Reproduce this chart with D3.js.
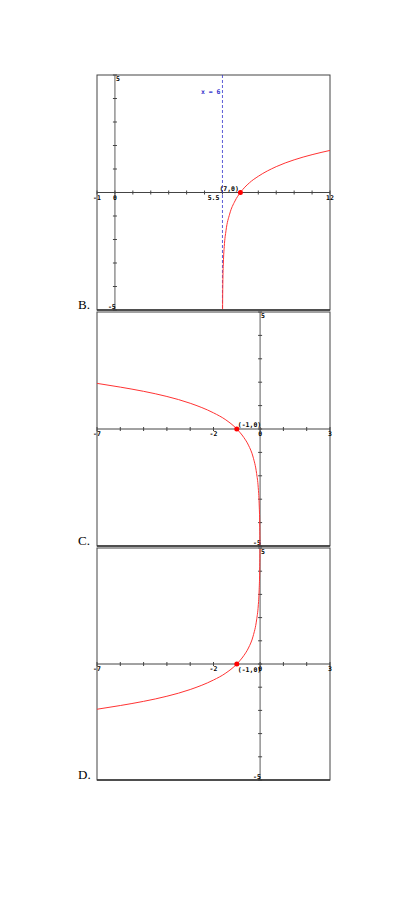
<!DOCTYPE html><html><head><meta charset="utf-8"><script src="https://cdn.jsdelivr.net/npm/d3@7"></script>
<style>body{margin:0;background:#fff}</style></head><body><svg id="c" width="400" height="898"></svg>
<script>
// Data
const panelLetters = ["B.", "C.", "D."];
const bX = [6.007,6.01,6.02,6.05,6.1,6.2,6.4,6.7,7,7.5,8,9,10,11,12];
const bY = [-4.96,-4.6,-3.9,-3.0,-2.3,-1.61,-0.92,-0.36,0,0.41,0.69,1.10,1.39,1.61,1.79];
const cX = [-7,-6,-5,-4,-3,-2,-1.5,-1,-0.7,-0.5,-0.3,-0.15,-0.08,-0.04,-0.015,-0.007];
const cY = [1.95,1.79,1.61,1.39,1.10,0.69,0.41,0,-0.36,-0.69,-1.2,-1.9,-2.5,-3.2,-4.2,-4.96];
const dY = cY.map(v => -v);

const svg = d3.select("#c");
const mono = "DejaVu Sans Mono";
function panel(top, bottom, xd, pts, point, ptLabel, ptLabelPos, xLabels, letter, asym){
  const x = d3.scaleLinear().domain(xd).range([97,330]);
  const y = d3.scaleLinear().domain([-5,5]).range([bottom, top]);
  const g = svg.append("g");
  g.append("rect").attr("x",97).attr("y",top).attr("width",233).attr("height",bottom-top).attr("fill","#fff").attr("stroke","#444").attr("stroke-width",1);
  g.append("line").attr("x1",97).attr("x2",330).attr("y1",y(0)).attr("y2",y(0)).attr("stroke","#444");
  g.append("line").attr("x1",x(0)).attr("x2",x(0)).attr("y1",top).attr("y2",bottom).attr("stroke","#777").attr("stroke-width",1.2);
  d3.range(Math.ceil(xd[0]),xd[1]+1).forEach(v=>{ g.append("line").attr("x1",x(v)).attr("x2",x(v)).attr("y1",y(0)-2).attr("y2",y(0)+2).attr("stroke","#444");});
  d3.range(-5,6).forEach(v=>{ g.append("line").attr("x1",x(0)-2).attr("x2",x(0)+2).attr("y1",y(v)).attr("y2",y(v)).attr("stroke","#444");});
  xLabels.forEach(([v,t])=>g.append("text").attr("x",x(v)).attr("y",y(0)+7).attr("text-anchor","middle").attr("font-family",mono).attr("font-size",6.5).attr("font-weight","bold").text(t));
  g.append("text").attr("x",x(0)+1).attr("y",top+6).attr("font-family",mono).attr("font-size",6.5).attr("font-weight","bold").text("5");
  g.append("text").attr("x",x(0)-7).attr("y",bottom-1).attr("font-family",mono).attr("font-size",6.5).attr("font-weight","bold").text("-5");
  if(asym){
    g.append("line").attr("x1",x(asym)).attr("x2",x(asym)).attr("y1",top).attr("y2",bottom).attr("stroke","#33c").attr("stroke-dasharray","3,2").attr("stroke-width",0.8);
    g.append("text").attr("x",x(asym)-2).attr("y",top+19).attr("text-anchor","end").attr("font-family",mono).attr("font-size",6.5).attr("font-weight","bold").attr("fill","#33c").text("x = 6");
  }
  g.append("path").datum(pts).attr("d",d3.line().x(d=>x(d[0])).y(d=>y(d[1])).curve(d3.curveMonotoneX)).attr("fill","none").attr("stroke","#f33").attr("stroke-width",1);
  g.append("circle").attr("cx",x(point[0])).attr("cy",y(point[1])).attr("r",2.5).attr("fill","red");
  g.append("text").attr("x",x(point[0])+ptLabelPos[0]).attr("y",y(point[1])+ptLabelPos[1]).attr("font-family",mono).attr("font-size",6.5).attr("font-weight","bold").text(ptLabel);
  g.append("line").attr("x1",97).attr("x2",330).attr("y1",bottom).attr("y2",bottom).attr("stroke","#333").attr("stroke-width",1.6);
  g.append("text").attr("x",78).attr("y",bottom-1).attr("font-family","Liberation Serif").attr("font-size",13).text(letter);
}
panel(75,310,[-1,12],bX.map((v,i)=>[v,bY[i]]),[7,0],"(7,0)",[-21,-2],[[-1,"-1"],[0,"0"],[5.5,"5.5"],[12,"12"]],panelLetters[0],6);
panel(312,546,[-7,3],cX.map((v,i)=>[v,cY[i]]),[-1,0],"(-1,0)",[1,-2],[[-7,"-7"],[-2,"-2"],[0,"0"],[3,"3"]],panelLetters[1],null);
panel(548,780,[-7,3],cX.map((v,i)=>[v,dY[i]]),[-1,0],"(-1,0)",[1,8],[[-7,"-7"],[-2,"-2"],[0,"0"],[3,"3"]],panelLetters[2],null);
</script></body></html>
